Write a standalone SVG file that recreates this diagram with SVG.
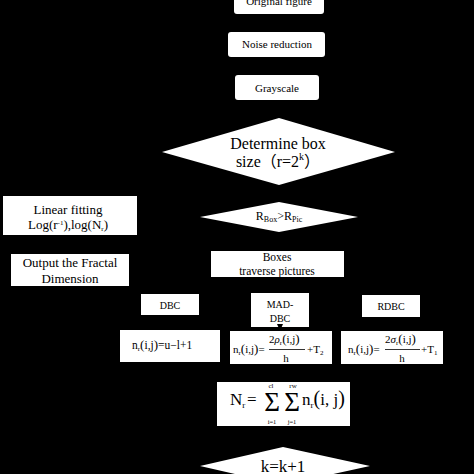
<svg xmlns="http://www.w3.org/2000/svg" width="474" height="474" viewBox="0 0 474 474">
<defs>
<style>
.bg{fill:#000}
.box{fill:#fff}
.t{font-family:"Liberation Serif","Times New Roman","DejaVu Serif","Noto Sans CJK SC",serif;fill:#000}
.c{text-anchor:middle}
.con{stroke:#000;stroke-width:1.2;fill:none}
</style>
<marker id="ah" markerWidth="8" markerHeight="8" refX="7" refY="4" orient="auto" markerUnits="userSpaceOnUse">
<path d="M0,1 L7,4 L0,7 Z" fill="#000"/>
</marker>
</defs>
<rect class="bg" x="0" y="0" width="474" height="474"/>

<g id="n-original">
<rect class="box" x="234" y="-10" width="90" height="24" rx="3"/>
<text class="t c" x="279" y="5" font-size="11">Original figure</text>
</g>
<g id="n-noise">
<rect class="box" x="228" y="32" width="97" height="25" rx="3"/>
<text class="t c" x="277" y="48" font-size="11">Noise reduction</text>
</g>
<g id="n-gray">
<rect class="box" x="235" y="75" width="84" height="25" rx="3"/>
<text class="t c" x="277" y="92" font-size="11">Grayscale</text>
</g>
<g id="n-determine">
<polygon class="box" points="279,118 395,152 279,185 162,152"/>
<text class="t c" x="278" y="149" font-size="16">Determine box</text>
<text class="t c" x="278" y="167" font-size="16">size（r=2<tspan font-size="10" dy="-7">k</tspan><tspan dy="7">）</tspan></text>
</g>
<g id="n-compare">
<polygon class="box" points="279,202 358,217 279,232 200,217"/>
<text class="t c" x="279" y="220" font-size="12">R<tspan font-size="8" dy="2">Box</tspan><tspan dy="-2">&gt;R</tspan><tspan font-size="8" dy="2">Pic</tspan></text>
</g>
<g id="n-linear">
<rect class="box" x="3" y="196" width="134" height="39"/>
<text class="t c" x="68" y="214" font-size="13">Linear fitting</text>
<text class="t c" x="68" y="229" font-size="13">Log(r<tspan font-size="7" dy="-4">-1</tspan><tspan dy="4">),log(N</tspan><tspan font-size="7" dy="2">r</tspan><tspan dy="-2">)</tspan></text>
</g>
<g id="n-output">
<rect class="box" x="11" y="254" width="118" height="32"/>
<text class="t c" x="70" y="267" font-size="13">Output the Fractal</text>
<text class="t c" x="70" y="283" font-size="13">Dimension</text>
</g>
<g id="n-boxes">
<rect class="box" x="211" y="251" width="133" height="26"/>
<text class="t c" x="277" y="261" font-size="11.5">Boxes</text>
<text class="t c" x="277" y="275" font-size="11.5">traverse pictures</text>
</g>
<g id="n-dbc">
<rect class="box" x="141" y="294" width="58" height="21"/>
<text class="t c" x="170" y="309" font-size="10">DBC</text>
</g>
<g id="n-maddbc">
<rect class="box" x="251" y="293" width="58" height="34"/>
<text class="t c" x="280" y="308" font-size="10">MAD-</text>
<text class="t c" x="280" y="322" font-size="10">DBC</text>
</g>
<g id="n-rdbc">
<rect class="box" x="362" y="295" width="58" height="22"/>
<text class="t c" x="391" y="310" font-size="10">RDBC</text>
</g>
<g id="n-f-dbc">
<rect class="box" x="120" y="330" width="100" height="32"/>
<text class="t" x="132" y="349" font-size="11.5">n<tspan font-size="7" dy="2">r</tspan><tspan dy="-2" font-size="13">(</tspan>i,j<tspan font-size="13">)</tspan>=u−l+1</text>
</g>
<g id="n-f-mad">
<rect class="box" x="230" y="331" width="102" height="33"/>
<text class="t" x="233" y="353" font-size="11">n<tspan font-size="7" dy="2">r</tspan><tspan dy="-2" font-size="13">(</tspan>i,j<tspan font-size="13">)</tspan>=</text>
<text class="t" x="269" y="343" font-size="11">2<tspan font-style="italic">ρ</tspan><tspan font-size="7" dy="2">r</tspan><tspan dy="-2" font-size="13">(</tspan>i,j<tspan font-size="13">)</tspan></text>
<line x1="269" y1="349.5" x2="305" y2="349.5" stroke="#000" stroke-width="0.8"/>
<text class="t c" x="286" y="362" font-size="11">h</text>
<text class="t" x="307" y="353" font-size="11">+T<tspan font-size="7" dy="2">2</tspan></text>
</g>
<g id="n-f-rdbc">
<rect class="box" x="341" y="331" width="102" height="33"/>
<text class="t" x="348" y="353" font-size="11">n<tspan font-size="7" dy="2">r</tspan><tspan dy="-2" font-size="13">(</tspan>i,j<tspan font-size="13">)</tspan>=</text>
<text class="t" x="385" y="343" font-size="11">2<tspan font-style="italic">σ</tspan><tspan font-size="7" dy="2">r</tspan><tspan dy="-2" font-size="13">(</tspan>i,j<tspan font-size="13">)</tspan></text>
<line x1="385" y1="349.5" x2="420" y2="349.5" stroke="#000" stroke-width="0.8"/>
<text class="t c" x="402" y="362" font-size="11">h</text>
<text class="t" x="421" y="353" font-size="11">+T<tspan font-size="7" dy="2">1</tspan></text>
</g>
<g id="n-sum">
<rect class="box" x="217" y="382" width="133" height="44"/>
<text class="t" x="230" y="405" font-size="17">N<tspan font-size="9" dy="3">r</tspan></text>
<text class="t" x="247" y="405" font-size="17">=</text>
<text class="t c" x="272" y="411" font-size="27">Σ</text>
<text class="t c" x="292" y="411" font-size="27">Σ</text>
<text class="t c" x="271" y="387.5" font-size="7">cl</text>
<text class="t c" x="293" y="387.5" font-size="7">rw</text>
<text class="t c" x="272" y="423.5" font-size="6.5">i=1</text>
<text class="t c" x="292" y="423.5" font-size="6.5">j=1</text>
<text class="t" x="302" y="405" font-size="17">n<tspan font-size="9" dy="3">r</tspan><tspan dy="-3" font-size="20">(</tspan>i, j<tspan font-size="20">)</tspan></text>
</g>
<g id="n-k">
<polygon class="box" points="283,447 370,466 283,485 200,466"/>
<text class="t c" x="283" y="472" font-size="17">k=k+1</text>
</g>

<g id="connectors">
<line class="con" x1="279" y1="14" x2="279" y2="32" marker-end="url(#ah)"/>
<line class="con" x1="279" y1="57" x2="279" y2="75" marker-end="url(#ah)"/>
<line class="con" x1="279" y1="100" x2="279" y2="118" marker-end="url(#ah)"/>
<line class="con" x1="279" y1="185" x2="279" y2="202" marker-end="url(#ah)"/>
<line class="con" x1="279" y1="232" x2="279" y2="251" marker-end="url(#ah)"/>
<line class="con" x1="200" y1="217" x2="137" y2="217" marker-end="url(#ah)"/>
<line class="con" x1="70" y1="235" x2="70" y2="254" marker-end="url(#ah)"/>
<line class="con" x1="170" y1="315" x2="170" y2="330" marker-end="url(#ah)"/>
<line class="con" x1="280" y1="327" x2="280" y2="331" marker-end="url(#ah)"/>
<line class="con" x1="391" y1="317" x2="391" y2="331" marker-end="url(#ah)"/>
<line class="con" x1="283" y1="426" x2="283" y2="447" marker-end="url(#ah)"/>
</g>
</svg>
